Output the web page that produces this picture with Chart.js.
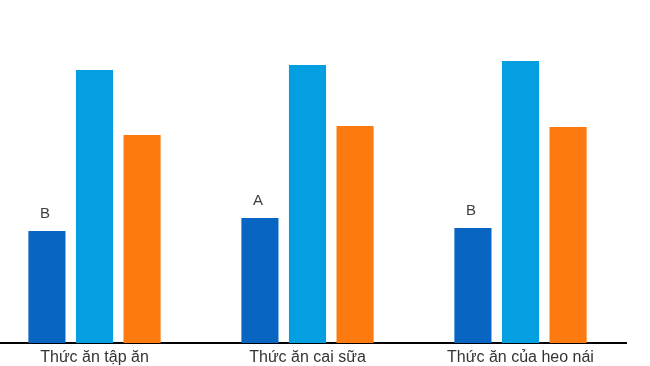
<!DOCTYPE html>
<html>
<head>
<meta charset="utf-8">
<script src="https://cdn.jsdelivr.net/npm/chart.js@4.4.1/dist/chart.umd.min.js"></script>
<style>
  html, body { margin: 0; padding: 0; background: #ffffff; overflow: hidden; }
  #wrap { position: absolute; left: -12.5px; top: 0; width: 639px; height: 366px; }
</style>
</head>
<body>
<div id="wrap"><canvas id="c"></canvas></div>
<script>
const categories = ["Thức ăn tập ăn", "Thức ăn cai sữa", "Thức ăn của heo nái"];
const seriesDark = [11.2, 12.5, 11.5];
const seriesLight = [27.3, 27.8, 28.2];
const seriesOrange = [20.8, 21.7, 21.6];
const darkLetters = ["B", "A", "B"];

const letterPlugin = {
  id: 'letters',
  afterDatasetsDraw(chart) {
    const ctx = chart.ctx;
    const meta = chart.getDatasetMeta(0);
    ctx.save();
    ctx.font = '15px "Liberation Sans", Arial, sans-serif';
    ctx.fillStyle = '#404040';
    ctx.textAlign = 'center';
    ctx.textBaseline = 'alphabetic';
    meta.data.forEach((bar, i) => {
      ctx.fillText(darkLetters[i], bar.x - 2, bar.y - 13);
    });
    ctx.restore();
  }
};

new Chart(document.getElementById('c'), {
  type: 'bar',
  data: {
    labels: categories,
    datasets: [
      { data: seriesDark, backgroundColor: '#0866c2' },
      { data: seriesLight, backgroundColor: '#049fe0' },
      { data: seriesOrange, backgroundColor: '#fd7a10' }
    ]
  },
  options: {
    responsive: true,
    maintainAspectRatio: false,
    animation: false,
    layout: { padding: { top: 0, left: 0, right: 0, bottom: 0 } },
    plugins: { legend: { display: false }, tooltip: { enabled: false } },
    datasets: { bar: { barPercentage: 0.78, categoryPercentage: 0.67 } },
    scales: {
      x: {
        grid: { display: false, drawTicks: false },
        border: { display: true, color: '#000000', width: 2 },
        ticks: {
          color: '#333333',
          padding: 5,
          font: { family: '"Liberation Sans", Arial, sans-serif', size: 16 }
        },
        afterFit: s => { s.height = 23; }
      },
      y: {
        display: false,
        min: 0,
        max: 34.3
      }
    }
  },
  plugins: [letterPlugin]
});
</script>
</body>
</html>
